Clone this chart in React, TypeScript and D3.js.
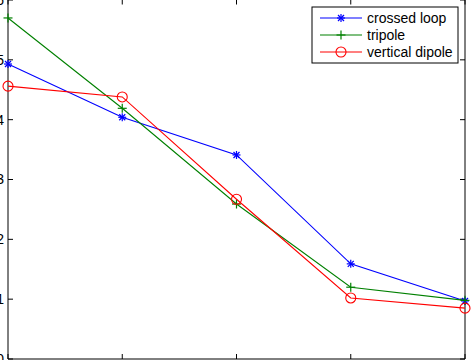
import React from "react";
import * as d3 from "d3";

const categories = [1, 2, 3, 4, 5];
const crossedLoop = [4.93, 4.04, 3.41, 1.59, 0.97];
const tripole = [5.7, 4.19, 2.59, 1.2, 0.98];
const verticalDipole = [4.56, 4.38, 2.67, 1.02, 0.85];
const yTicks = [0, 1, 2, 3, 4, 5, 6];
const seriesNames = ["crossed loop", "tripole", "vertical dipole"];

const W = 474;
const H = 360;

function Marker({ kind, x, y, color }: { kind: string; x: number; y: number; color: string }) {
  if (kind === "star") {
    const s = 4;
    return (
      <g stroke={color} strokeWidth={1.2}>
        <line x1={x - s} y1={y} x2={x + s} y2={y} />
        <line x1={x} y1={y - s} x2={x} y2={y + s} />
        <line x1={x - s * 0.75} y1={y - s * 0.75} x2={x + s * 0.75} y2={y + s * 0.75} />
        <line x1={x - s * 0.75} y1={y + s * 0.75} x2={x + s * 0.75} y2={y - s * 0.75} />
      </g>
    );
  }
  if (kind === "plus") {
    const s = 4.5;
    return (
      <g stroke={color} strokeWidth={1.2}>
        <line x1={x - s} y1={y} x2={x + s} y2={y} />
        <line x1={x} y1={y - s} x2={x} y2={y + s} />
      </g>
    );
  }
  return <circle cx={x} cy={y} r={5} fill="none" stroke={color} strokeWidth={1.1} />;
}

export default function App() {
  const x = d3.scaleLinear().domain([1, 5]).range([8, 465]);
  const y = d3.scaleLinear().domain([0, 6]).range([359, 0]);
  const line = d3
    .line<number>()
    .x((_, i) => x(categories[i]))
    .y((d) => y(d));

  const series = [
    { name: seriesNames[0], data: crossedLoop, color: "#0000ff", marker: "star" },
    { name: seriesNames[1], data: tripole, color: "#008000", marker: "plus" },
    { name: seriesNames[2], data: verticalDipole, color: "#ff0000", marker: "circle" },
  ];

  const tickLen = 5;
  const font = "Liberation Sans, Arial, sans-serif";
  const topY = y(6) - 1.5;

  return (
    <svg
      width={W}
      height={H}
      style={{ position: "absolute", left: 0, top: 0, background: "#fff" }}
      fontFamily={font}
    >
      <rect x={0} y={0} width={W} height={H} fill="#fff" />
      {/* axes box */}
      <g stroke="#000" strokeWidth={1} fill="none">
        <line x1={x(1)} y1={topY} x2={x(1)} y2={y(0)} />
        <line x1={x(5)} y1={topY} x2={x(5)} y2={y(0)} />
        <line x1={x(1)} y1={y(0)} x2={x(5)} y2={y(0)} />
        <line x1={x(1)} y1={topY} x2={x(5)} y2={topY} />
        {categories.map((c) => (
          <g key={"xt" + c}>
            <line x1={x(c)} y1={y(0)} x2={x(c)} y2={y(0) - tickLen} />
            <line x1={x(c)} y1={topY} x2={x(c)} y2={topY + tickLen + 1} />
          </g>
        ))}
        {yTicks.map((t) => (
          <g key={"yt" + t}>
            <line x1={x(1)} y1={y(t)} x2={x(1) + tickLen} y2={y(t)} />
            <line x1={x(5)} y1={y(t)} x2={x(5) - tickLen} y2={y(t)} />
          </g>
        ))}
      </g>
      {yTicks.map((t) => (
        <text
          key={"yl" + t}
          x={4}
          y={y(t)}
          dy="0.35em"
          textAnchor="end"
          fontSize={14}
          fill="#000"
        >
          {t}
        </text>
      ))}
      {/* series */}
      {series.map((s) => (
        <g key={s.name}>
          <path d={line(s.data) || ""} fill="none" stroke={s.color} strokeWidth={1.1} />
          {s.data.map((v, i) => (
            <Marker key={i} kind={s.marker} x={x(categories[i])} y={y(v)} color={s.color} />
          ))}
        </g>
      ))}
      {/* legend */}
      <g>
        <rect x={312} y={7} width={146} height={56} fill="#fff" stroke="#000" strokeWidth={1} />
        {series.map((s, i) => {
          const cy = 18 + i * 17;
          return (
            <g key={"lg" + s.name}>
              <line x1={320} y1={cy} x2={362} y2={cy} stroke={s.color} strokeWidth={1.1} />
              <Marker kind={s.marker} x={341} y={cy} color={s.color} />
              <text x={367} y={cy} dy="0.35em" fontSize={14} fill="#000">
                {s.name}
              </text>
            </g>
          );
        })}
      </g>
    </svg>
  );
}
